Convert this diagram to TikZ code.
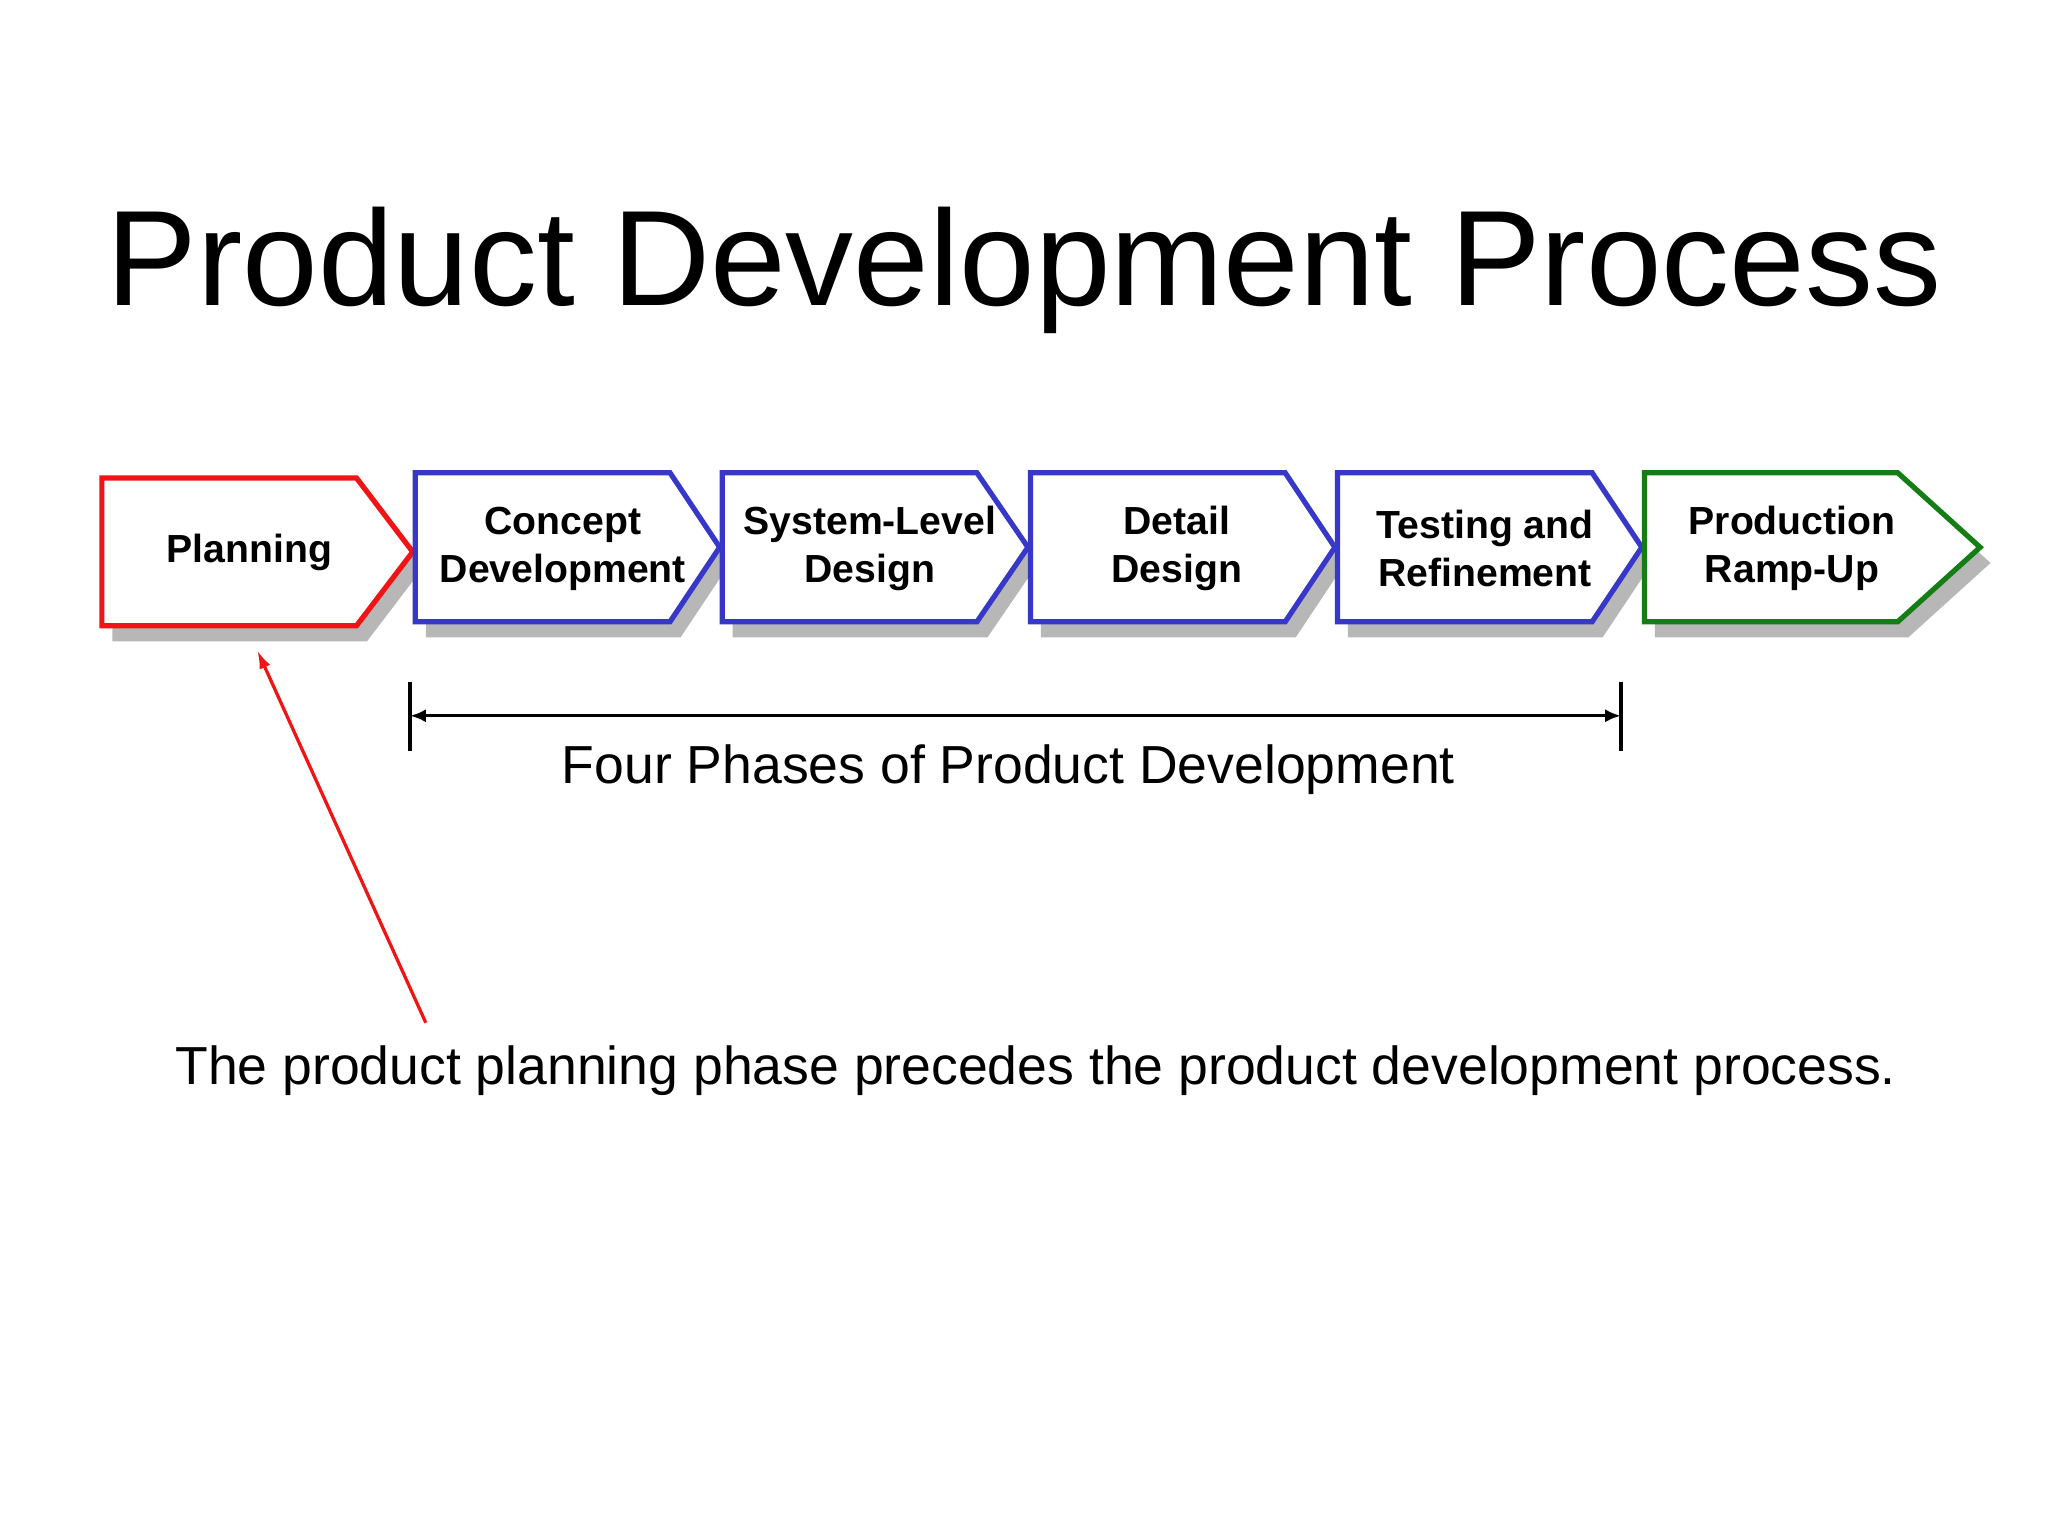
\documentclass[tikz,border=0pt]{standalone}
\usepackage{fontspec}
\setmainfont{Liberation Sans}
\usetikzlibrary{arrows.meta}
\definecolor{pblue}{RGB}{56,56,200}
\definecolor{pred}{RGB}{240,20,20}
\definecolor{pgreen}{RGB}{20,125,20}
\tikzset{
 chev/.style={line width=4pt, fill=white, line join=miter},
 shad/.style={fill=black!35, opacity=0.8},
 lbl/.style={font=\fontsize{30}{37}\selectfont\bfseries, align=center}
}
\newcommand{\chevron}[6]{% x1 x2 tip ytop ybot color
 \fill[shad] (#1+8,#4+12) -- (#2+8,#4+12) -- (#3+8,{(#4+#5)/2+12}) -- (#2+8,#5+12) -- (#1+8,#5+12) -- cycle;
 \draw[chev,draw=#6] (#1,#4) -- (#2,#4) -- (#3,{(#4+#5)/2}) -- (#2,#5) -- (#1,#5) -- cycle;}
\begin{document}
\begin{tikzpicture}[x=1pt,y=-1pt]
\useasboundingbox (0,0) rectangle (1568,1176);
\fill[white] (0,0) rectangle (1568,1176);
\node[font=\fontsize{104}{120}\selectfont] (title) at (784,207) {Product Development Process};
\chevron{78}{273}{316}{366}{479}{pred}
\chevron{318}{513}{551}{362}{476}{pblue}
\chevron{553}{748}{787}{362}{476}{pblue}
\chevron{789}{984}{1022}{362}{476}{pblue}
\chevron{1024}{1219}{1257}{362}{476}{pblue}
\chevron{1259}{1453}{1516}{362}{476}{pgreen}
\node[lbl] (plan) at (191,423) {Planning};
\node[lbl] (conc) at (431,420) {Concept\\Development};
\node[lbl] (sys) at (666,420) {System-Level\\Design};
\node[lbl] (det) at (901,420) {Detail\\Design};
\node[lbl] (test) at (1137,420) {Testing and\\Refinement};
\node[lbl] (prod) at (1372,420) {Production\\Ramp-Up};
\coordinate (bl) at (314,548);
\coordinate (br) at (1241,548);
\draw[line width=2.5pt] (314,522) -- (314,575);
\draw[line width=2.5pt] (1241,522) -- (1241,575);
\draw[line width=2.5pt,{Latex[length=12pt,width=10pt]}-{Latex[length=12pt,width=10pt]}] (bl) -- (br);
\node[font=\fontsize{41}{48}\selectfont] (four) at (772,589) {Four Phases of Product Development};
\coordinate (ptip) at (197,498);
\coordinate (pstart) at (326,783);
\draw[pred,line width=2.5pt,-{Latex[length=14pt,width=9pt]}] (pstart) -- (ptip);
\node[font=\fontsize{41}{48}\selectfont] (note) at (793,820) {The product planning phase precedes the product development process.};
\end{tikzpicture}
\end{document}
